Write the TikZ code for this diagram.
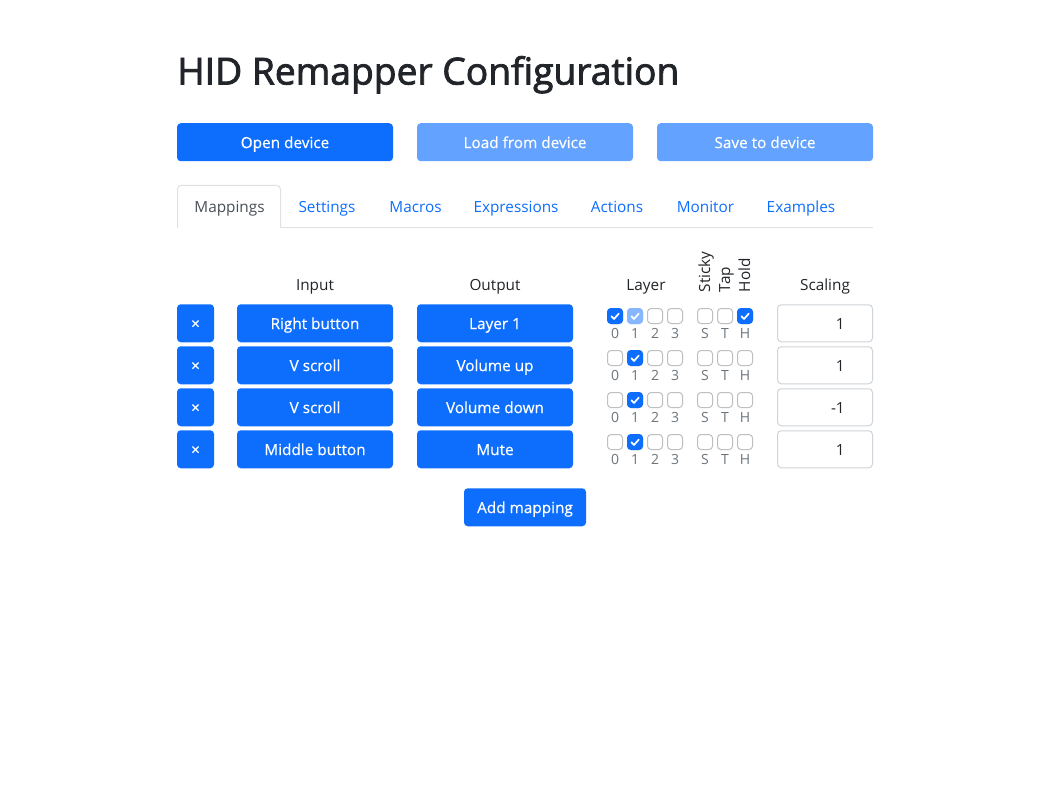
\documentclass[tikz,border=0pt]{standalone}
\usepackage{fontspec}
\setmainfont{Open Sans}
\newfontfamily\titlefont[FakeBold=2.2]{Open Sans}
\newfontfamily\btnfont[FakeBold=0.5]{Open Sans}
\definecolor{bsblue}{HTML}{0D6EFD}
\definecolor{bsdis}{HTML}{63A2FE}
\definecolor{bschkdis}{HTML}{86B7FE}
\definecolor{bsborder}{HTML}{DEE2E6}
\definecolor{bsinput}{HTML}{CED4DA}
\definecolor{bscheck}{HTML}{BFBFBF}
\definecolor{bstext}{HTML}{212529}
\definecolor{bstab}{HTML}{495057}
\definecolor{bsmuted}{HTML}{6C757D}
\tikzset{
  ui/.style={font=\fontsize{11.5}{14}\selectfont,text height=10pt,text depth=2pt},
  btn/.style={font=\btnfont\fontsize{11.5}{14}\selectfont,text height=10.75pt,text depth=2pt,fill=bsblue,rounded corners=2.8pt,inner sep=0pt,text=white,minimum height=28.5pt},
  bigbtn/.style={btn,minimum width=162pt},
  disbtn/.style={bigbtn,fill=bsdis},
  xbtn/.style={btn,minimum width=27.75pt},
  mapbtn/.style={btn,minimum width=117pt},
  scalebox/.style={draw=bsinput,line width=.75pt,fill=white,rounded corners=2.8pt,inner sep=0pt,minimum width=71.25pt,minimum height=27.75pt},
  scaletxt/.style={ui,text height=10.75pt,inner sep=0pt,anchor=east,text=bstext},
  cb/.style={draw=bscheck,line width=.75pt,fill=white,rounded corners=2.6pt,inner sep=0pt,minimum size=11.25pt},
  cbon/.style={cb,draw=bsblue,fill=bsblue},
  cbdis/.style={cb,draw=bschkdis,fill=bschkdis},
  cblabel/.style={inner sep=0pt,text=bsmuted,font=\fontsize{10.5}{12}\selectfont,text height=8pt,text depth=0pt},
  hdr/.style={ui,inner sep=0pt,text=bstext},
  rothdr/.style={hdr,rotate=90,anchor=west},
  tablabel/.style={ui,inner sep=0pt,text=bsblue},
  tick/.style={draw=white,line width=1.3pt,line cap=round,line join=round}
}
\newcommand{\chk}[1]{\draw[tick] ([shift={(-3.6,0.3)}]#1.center) -- ([shift={(-1,2.9)}]#1.center) -- ([shift={(3.8,-2.4)}]#1.center);}
\begin{document}
\begin{tikzpicture}[x=.75pt,y=-.75pt]
\useasboundingbox[fill=white] (0,0) rectangle (1050,788);
\node[inner sep=0pt,anchor=base west,text=bstext,font=\titlefont\fontsize{27.9}{34}\selectfont] (title) at (177,84.5) {HID Remapper Configuration};
\node[bigbtn] (open) at (285,142.25) {Open device};
\node[disbtn] (load) at (525,142.25) {Load from device};
\node[disbtn] (save) at (765,142.25) {Save to device};
% tabs
\draw[bsborder,line width=.75pt] (177,227.5) -- (873,227.5);
\draw[bsborder,line width=.75pt,fill=white,rounded corners=2.8pt] (177.5,228) -- (177.5,185.5) -- (280.5,185.5) -- (280.5,228);
\node[tablabel,text=bstab] (t1) at (229.5,207) {Mappings};
\node[tablabel] (t2) at (327,207) {Settings};
\node[tablabel] (t3) at (415.5,207) {Macros};
\node[tablabel] (t4) at (516,207) {Expressions};
\node[tablabel] (t5) at (617,207) {Actions};
\node[tablabel] (t6) at (705.5,207) {Monitor};
\node[tablabel] (t7) at (801,207) {Examples};
% headers
\node[hdr] (hi) at (315,285) {Input};
\node[hdr] (ho) at (495,285) {Output};
\node[hdr] (hl) at (646,285) {Layer};
\node[hdr] (hs) at (825,285) {Scaling};
\node[rothdr] (h1) at (704.7,292.5) {Sticky};
\node[rothdr] (h2) at (724.7,292.5) {Tap};
\node[rothdr] (h3) at (744.7,292.5) {Hold};
% rows: #1 id, #2 centre y, #3 input, #4 output, #5 scale
\newcommand{\maprow}[5]{%
  \node[xbtn] (x#1) at (195.5,#2) {×};
  \node[mapbtn] (in#1) at (315,#2) {#3};
  \node[mapbtn] (out#1) at (495,#2) {#4};
  \node[scalebox] (sc#1) at (825,#2) {};
  \node[scaletxt] (sct#1) at (845,#2) {#5};
  \foreach \cx/\lab/\nm in {615/0/a,635/1/b,655/2/c,675/3/d,705/S/e,725/T/f,745/H/g}{
    \node[cblabel] (l\nm#1) at (\cx,#2+10) {\lab};
  }
}
\maprow{1}{323.25}{Right button}{Layer 1}{1}
\maprow{2}{365.25}{V scroll}{Volume up}{1}
\maprow{3}{407.25}{V scroll}{Volume down}{-1}
\maprow{4}{449.25}{Middle button}{Mute}{1}
% checkboxes
\foreach \r/\y in {1/316,2/358,3/400,4/442}{
  \foreach \cx/\nm in {615/a,635/b,655/c,675/d,705/e,725/f,745/g}{
    \node[cb] (c\nm\r) at (\cx,\y) {};
  }
}
\node[cbon] (a1) at (615,316) {}; \chk{a1}
\node[cbdis] (b1) at (635,316) {}; \chk{b1}
\node[cbon] (g1) at (745,316) {}; \chk{g1}
\node[cbon] (b2) at (635,358) {}; \chk{b2}
\node[cbon] (b3) at (635,400) {}; \chk{b3}
\node[cbon] (b4) at (635,442) {}; \chk{b4}
\node[btn,minimum width=91.5pt] (add) at (525,507.25) {Add mapping};
\end{tikzpicture}
\end{document}
